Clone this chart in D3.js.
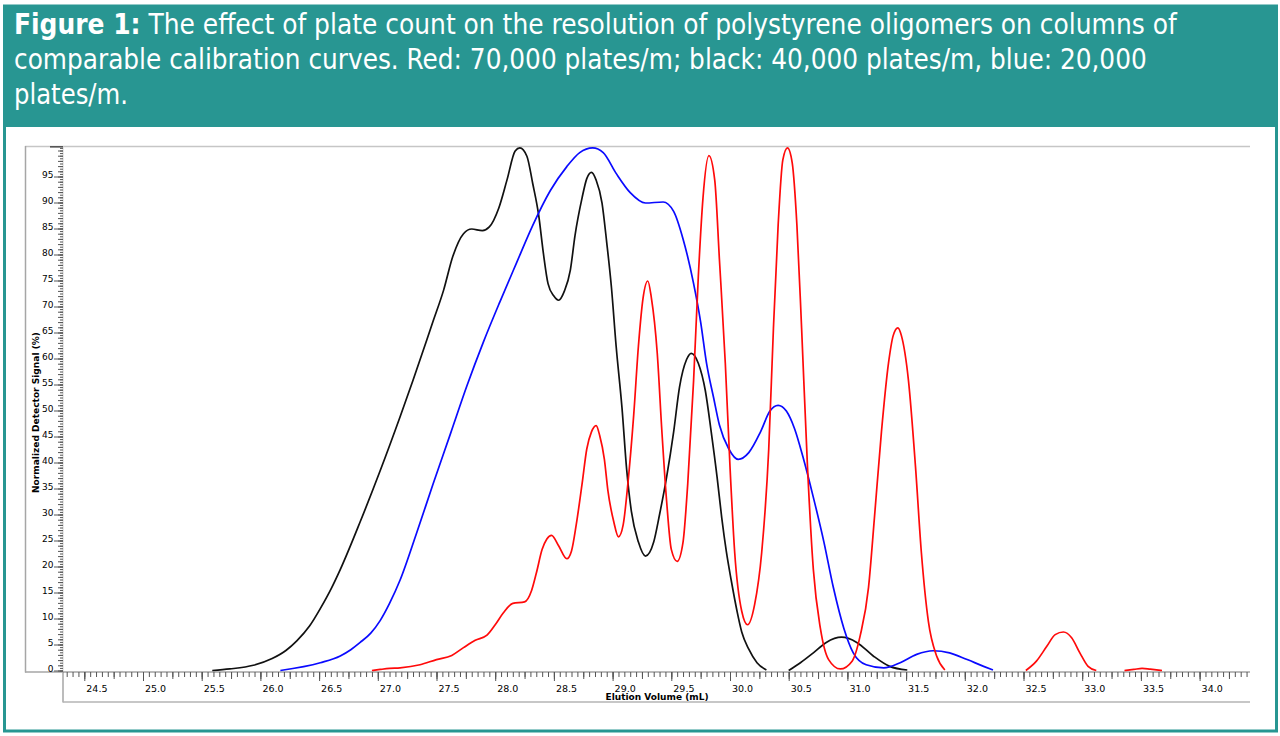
<!DOCTYPE html>
<html><head><meta charset="utf-8">
<script src="https://cdn.jsdelivr.net/npm/d3@7"></script>
<style>html,body{margin:0;padding:0;background:#fff;} svg{display:block}</style>
</head><body>
<svg id="c" width="1280" height="736"></svg>
<script>
// ---------------- DATA ----------------
const titleBold = "Figure 1:";
const titleLines = [
  " The effect of plate count on the resolution of polystyrene oligomers on columns of",
  "comparable calibration curves. Red: 70,000 plates/m; black: 40,000 plates/m, blue: 20,000",
  "plates/m."
];
const xAxisTitle = "Elution Volume (mL)";
const yAxisTitle = "Normalized Detector Signal (%)";
const xTickLabels = [24.5,25.0,25.5,26.0,26.5,27.0,27.5,28.0,28.5,29.0,29.5,30.0,30.5,31.0,31.5,32.0,32.5,33.0,33.5,34.0];
const yTickLabels = [0,5,10,15,20,25,30,35,40,45,50,55,60,65,70,75,80,85,90,95];

// black: 40,000 plates/m
const blackX = [25.59,25.74,25.94,26.10,26.22,26.31,26.42,26.51,26.60,26.68,26.85,27.02,27.19,27.30,27.47,27.56,27.64,27.73,27.80,27.89,27.95,28.03,28.10,28.17,28.21,28.27,28.32,28.37,28.41,28.45,28.50,28.54,28.59,28.64,28.68,28.74,28.78,28.82,28.86,28.91,28.95,28.99,29.03,29.08,29.12,29.16,29.22,29.28,29.35,29.40,29.46,29.52,29.57,29.63,29.67,29.73,29.79,29.84,29.89,29.93,29.97,30.01,30.06,30.10,30.16,30.23,30.31,30.40,30.50,30.60,30.71,30.82,30.95,31.08,31.22,31.36,31.51];
const blackY = [0,0.3,1.0,2.3,3.9,5.7,8.6,11.9,15.6,19.4,28.6,38.4,48.8,55.8,67.1,73.1,79.7,84.0,84.9,84.6,85.3,88.9,94.3,99.9,100.5,98.9,93.6,87.6,80.3,74.4,72.0,71.2,73.0,77.0,83.7,90.9,94.6,95.8,94.3,89.9,82.3,73.7,62.4,50.5,38.6,30.6,24.7,22.0,24.7,30.0,37.2,45.9,54.5,59.8,61.0,59.1,53.8,45.9,37.2,29.3,22.7,17.4,11.4,7.4,4.1,1.5,0.1,null,0,1.5,3.4,5.4,6.4,5.4,2.8,0.8,0.1];

// blue: 20,000 plates/m
const blueX = [26.17,26.51,26.68,26.77,26.85,26.94,27.02,27.10,27.19,27.33,27.47,27.62,27.76,27.90,28.04,28.18,28.32,28.47,28.61,28.72,28.83,28.92,29.03,29.15,29.28,29.43,29.52,29.60,29.69,29.75,29.80,29.86,29.91,29.99,30.07,30.16,30.26,30.34,30.41,30.48,30.55,30.62,30.71,30.80,30.88,30.97,31.05,31.16,31.31,31.45,31.59,31.73,31.87,32.02,32.16,32.24];
const blueY = [0,1.5,2.8,4.0,5.4,7.2,9.6,12.9,17.4,26.4,35.8,45.6,54.8,63.2,70.9,78.3,85.6,92.3,96.9,99.6,100.5,99.6,95.6,91.9,89.9,90.1,88.3,83.0,74.4,67.0,59.1,52.5,47.2,42.6,40.6,41.9,45.9,49.9,51.0,49.9,46.5,41.2,33.3,24.7,16.0,8.1,3.4,1.1,0.5,1.5,3.1,3.8,3.4,2.1,0.8,0.1];

// red: 70,000 plates/m
const redX = [26.95,27.02,27.10,27.19,27.36,27.50,27.63,27.73,27.83,27.93,28.00,28.07,28.15,28.25,28.31,28.35,28.40,28.44,28.48,28.54,28.61,28.65,28.69,28.74,28.78,28.82,28.86,28.89,28.93,28.96,29.01,29.05,29.09,29.13,29.18,29.22,29.26,29.30,29.33,29.38,29.42,29.46,29.50,29.55,29.60,29.64,29.69,29.73,29.77,29.82,29.87,29.91,29.96,30.00,30.04,30.10,30.15,30.21,30.27,30.33,30.37,30.41,30.45,30.49,30.53,30.57,30.61,30.66,30.71,30.77,30.84,30.94,31.04,31.11,31.18,31.23,31.29,31.35,31.39,31.43,31.46,31.52,31.58,31.63,31.69,31.76,31.83,32.20,32.52,32.61,32.70,32.77,32.84,32.91,32.98,33.05,33.12,33.20,33.36,33.44,33.51,33.58,33.68];
const redY = [0,0.2,0.4,0.5,1.1,2.1,2.9,4.4,5.8,6.8,8.8,11.1,12.9,13.2,15.4,18.7,23.3,25.3,26.0,24.0,21.5,23.0,28.0,35.9,42.6,45.9,47.1,45.2,40.6,34.6,28.6,25.7,28.0,35.9,49.2,62.4,71.7,74.9,71.7,61.1,45.9,32.6,23.3,21.0,24.7,35.9,55.8,75.7,90.9,99.0,94.3,79.0,59.1,39.2,22.7,11.4,8.8,12.7,22.7,42.6,65.8,85.6,98.2,100.5,97.6,85.6,65.8,39.2,19.4,8.1,2.1,0.3,1.8,6.8,16.0,29.3,45.9,59.1,64.4,65.9,64.4,55.8,39.2,22.7,9.4,2.8,0.1,null,0,1.8,4.7,6.9,7.4,6.3,3.4,0.8,0,null,0,0.2,0.4,0.25,0];

const series = [
  {name:"black", xs:blackX, ys:blackY, color:"#111111"},
  {name:"blue",  xs:blueX,  ys:blueY,  color:"#0a0aff"},
  {name:"red",   xs:redX,   ys:redY,   color:"#ff0a0a"}
];

// ---------------- DRAWING ----------------
const TEAL = "#289692";
const svg = d3.select("#c");

// outer border and header band
svg.append("rect").attr("x",4.5).attr("y",6).attr("width",1272).attr("height",725)
  .attr("fill","#fff").attr("stroke",TEAL).attr("stroke-width",3);
svg.append("rect").attr("x",3).attr("y",5).attr("width",1275).attr("height",122).attr("fill",TEAL);

const lineTargets = [1163, 1133, 114];
const baselines = [33.5, 68.5, 103.5];
titleLines.forEach((t, i) => {
  const txt = svg.append("text")
    .attr("fill", "#fff")
    .attr("font-family", "'Liberation Sans Narrow','DejaVu Sans Condensed','Roboto Condensed',Roboto,sans-serif")
    .attr("font-size", 29);
  if (i === 0) txt.append("tspan").attr("font-weight", "bold").text(titleBold);
  txt.append("tspan").text(t);
  const w = txt.node().getComputedTextLength();
  const s = lineTargets[i] / w;
  txt.attr("transform", `translate(14,${baselines[i]}) scale(${s},1)`);
});

// scales
const x = d3.scaleLinear().domain([24.5, 34.0]).range([84.3, 84.3 + 9.5 * 117.4]);
const y = d3.scaleLinear().domain([0, 100]).range([670.5, 150.5]);

const plotL = 63, plotR = 1250, plotT = 146, baseY = 672;

// frame lines
const frame = svg.append("g");
frame.append("line").attr("x1",25).attr("x2",plotR).attr("y1",146.5).attr("y2",146.5).attr("stroke","#c6c6c6").attr("stroke-width",1.5);
frame.append("line").attr("x1",25.5).attr("x2",25.5).attr("y1",146).attr("y2",672.5).attr("stroke","#a6a6a6").attr("stroke-width",1.5);
frame.append("line").attr("x1",25).attr("x2",plotL).attr("y1",672).attr("y2",672).attr("stroke","#a6a6a6").attr("stroke-width",1.5);
frame.append("line").attr("x1",plotL).attr("x2",plotL).attr("y1",146).attr("y2",672).attr("stroke","#d0d0d0").attr("stroke-width",1);
frame.append("line").attr("x1",plotL).attr("x2",plotL).attr("y1",672).attr("y2",702.5).attr("stroke","#a6a6a6").attr("stroke-width",1.5);
frame.append("line").attr("x1",plotL).attr("x2",plotR).attr("y1",702).attr("y2",702).attr("stroke","#b4b4b4").attr("stroke-width",1.5);
frame.append("line").attr("x1",50).attr("x2",plotL).attr("y1",146.8).attr("y2",146.8).attr("stroke","#555").attr("stroke-width",1.6);

// y ruler
const TICK = "#555";
const yHalf = d3.range(0, 202).map(i => i * 0.5);
const yInt = d3.range(0, 101);
const yg = svg.append("g").attr("transform", `translate(${plotL},0)`);
[[yHalf,3],[yInt,5]].forEach(([vals,size]) => {
  yg.append("g").call(d3.axisLeft(y).tickValues(vals).tickSize(size).tickFormat(""))
    .call(g => g.select(".domain").remove())
    .call(g => g.selectAll("line").attr("stroke", TICK));
});
yg.append("g").call(d3.axisLeft(y).tickValues(yTickLabels).tickSize(9).tickPadding(0.5).tickFormat(d3.format("d")))
  .call(g => g.select(".domain").remove())
  .call(g => g.selectAll("line").attr("stroke", TICK))
  .call(g => g.selectAll("text").attr("dy","0.08em").attr("fill","#000")
    .attr("font-family","'DejaVu Sans',sans-serif").attr("font-size",9));

// x ruler
svg.append("line").attr("x1",plotL).attr("x2",plotR).attr("y1",baseY).attr("y2",baseY).attr("stroke","#777").attr("stroke-width",1.2);
const x0 = x.invert(plotL), x1 = x.invert(plotR);
const xMinor = d3.range(Math.ceil((x0-24.5)/0.05), Math.floor((x1-24.5)/0.05)+1).map(i => 24.5 + i*0.05);
const xMid = d3.range(Math.ceil((x0-24.5)/0.25), Math.floor((x1-24.5)/0.25)+1).map(i => 24.5 + i*0.25);
const xg = svg.append("g").attr("transform", `translate(0,${baseY})`);
[[xMinor,5],[xMid,7]].forEach(([vals,size]) => {
  xg.append("g").call(d3.axisBottom(x).tickValues(vals).tickSize(size).tickFormat(""))
    .call(g => g.select(".domain").remove())
    .call(g => g.selectAll("line").attr("stroke", TICK));
});
xg.append("g").call(d3.axisBottom(x).tickValues(xTickLabels).tickSize(9).tickFormat(d3.format(".1f")))
  .call(g => g.select(".domain").remove())
  .call(g => g.selectAll("line").attr("stroke", TICK))
  .call(g => g.selectAll("text").attr("text-anchor","start").attr("x",1.5).attr("y",19.8).attr("dy",0)
    .attr("fill","#000").attr("font-family","'DejaVu Sans',sans-serif").attr("font-size",9.5));

// axis titles
svg.append("text").attr("x",657).attr("y",700).attr("text-anchor","middle")
  .attr("font-family","'DejaVu Sans',sans-serif").attr("font-weight","bold").attr("font-size",8.5)
  .attr("textLength",103).attr("lengthAdjust","spacingAndGlyphs").text(xAxisTitle);
svg.append("text").attr("transform","translate(38.5,412.5) rotate(-90)").attr("text-anchor","middle")
  .attr("font-family","'DejaVu Sans',sans-serif").attr("font-weight","bold").attr("font-size",8.8)
  .attr("textLength",161).attr("lengthAdjust","spacingAndGlyphs").text(yAxisTitle);

// curves
const line = d3.line()
  .defined(d => d[1] !== null)
  .x(d => x(d[0])).y(d => y(d[1]))
  .curve(d3.curveMonotoneX);
const cg = svg.append("g");
series.forEach(s => {
  const pts = s.xs.map((v, i) => [v, s.ys[i]]);
  cg.append("path").attr("d", line(pts)).attr("fill","none")
    .attr("stroke", s.color).attr("stroke-width", 1.7).attr("stroke-linejoin","round");
});
</script>
</body></html>
